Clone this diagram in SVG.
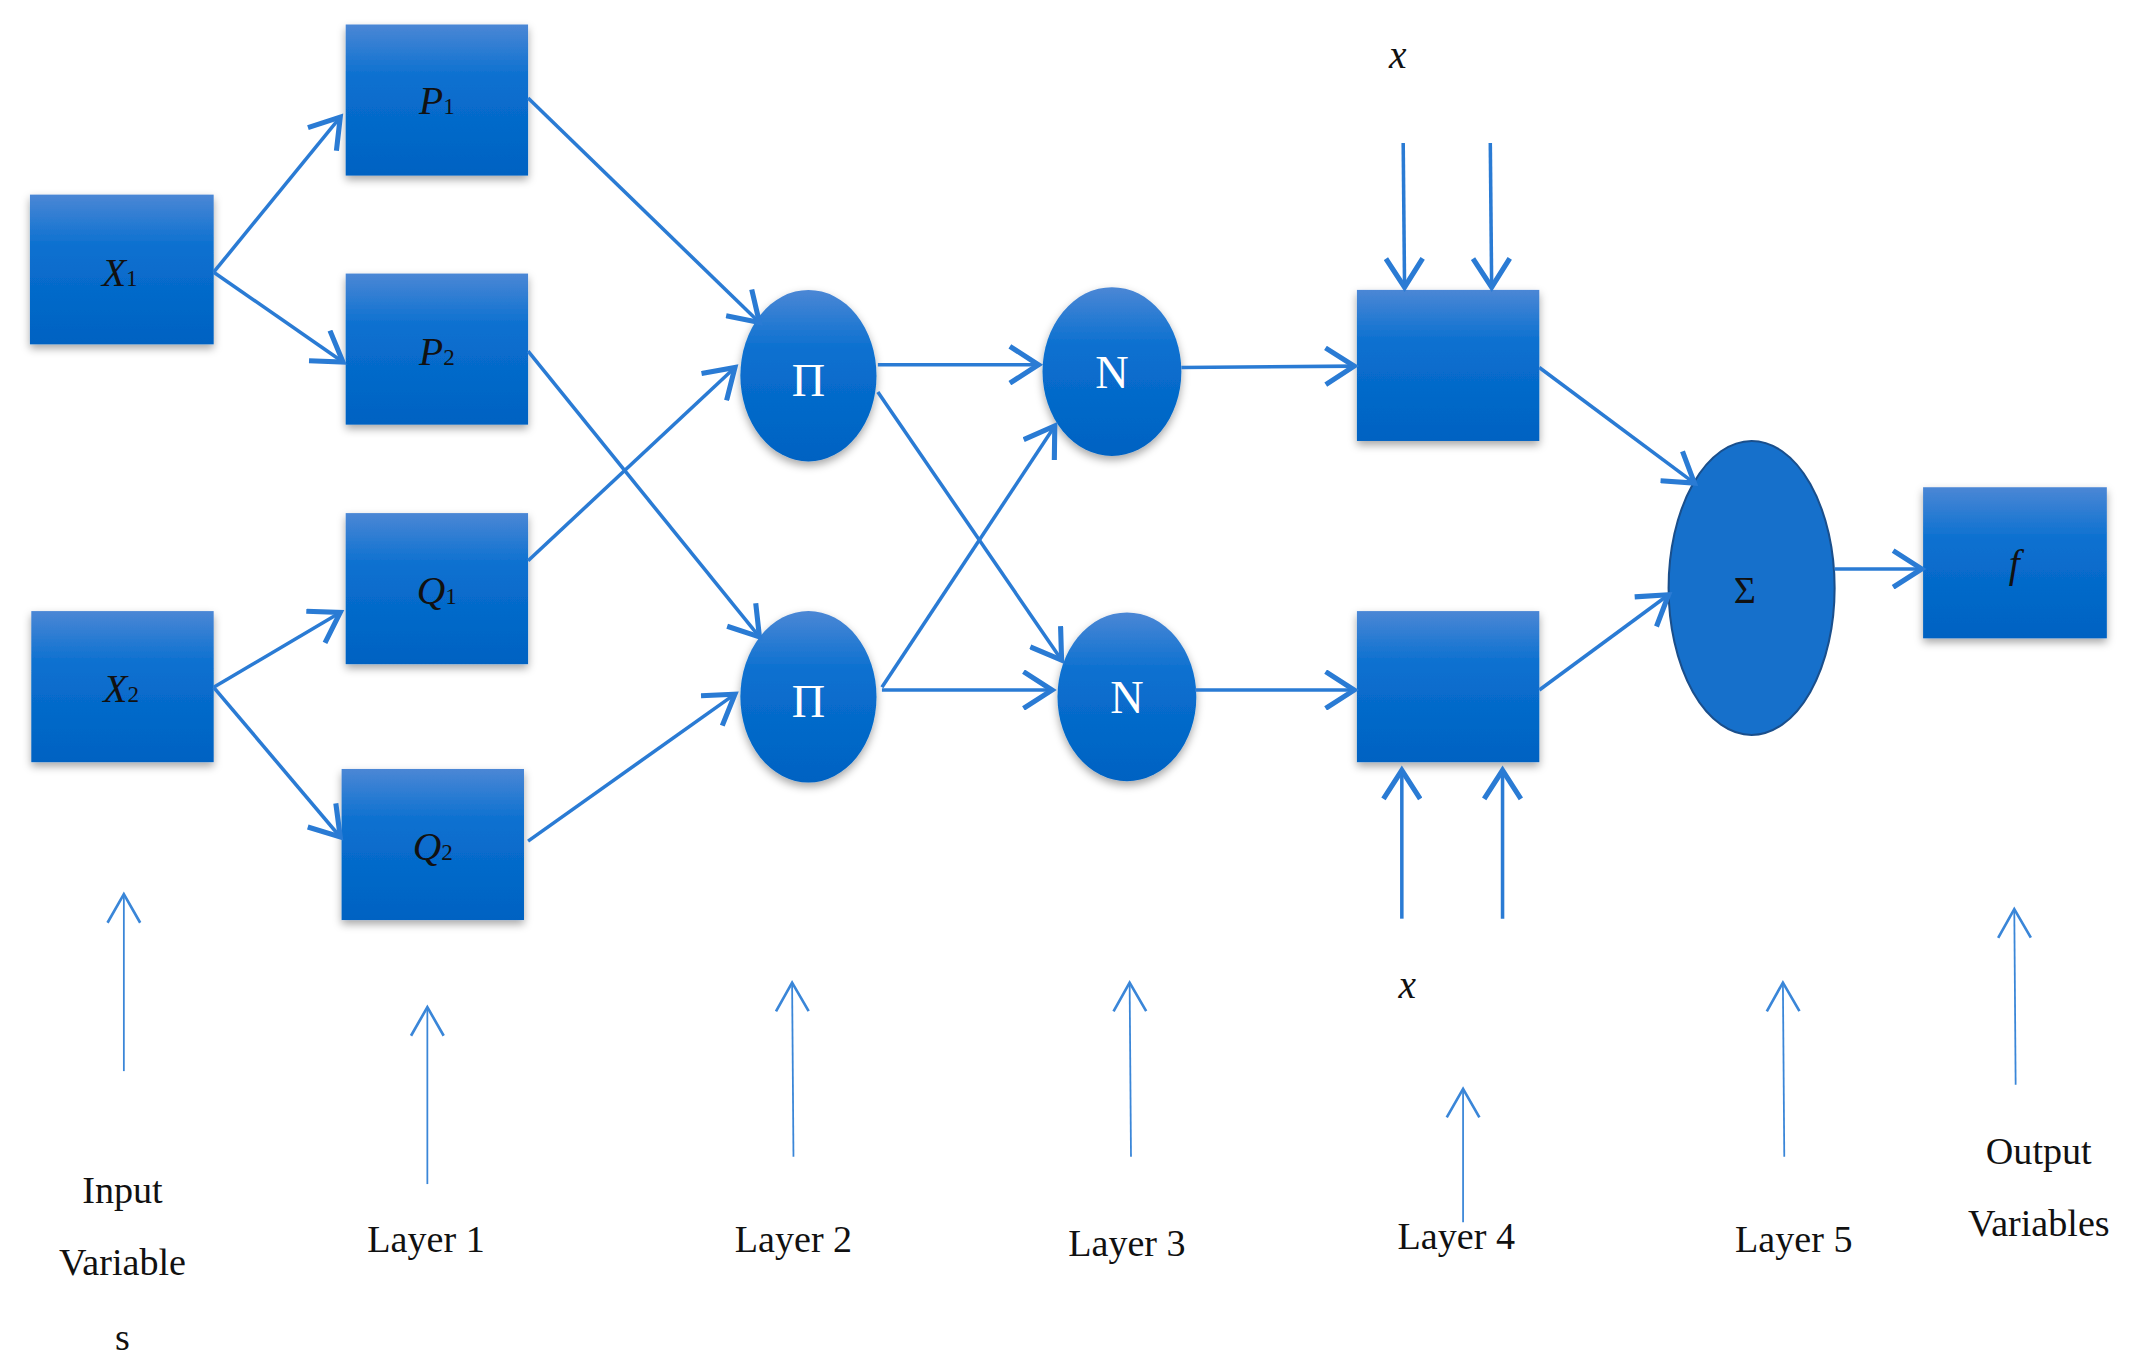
<svg xmlns="http://www.w3.org/2000/svg" width="2134" height="1367" viewBox="0 0 2134 1367">
<defs>
<linearGradient id="g" x1="0" y1="0" x2="0" y2="1">
<stop offset="0" stop-color="#4b87d5"/><stop offset="0.35" stop-color="#0a70d0"/><stop offset="1" stop-color="#0062c2"/>
</linearGradient>
<filter id="sh" x="-20%" y="-20%" width="140%" height="150%"><feDropShadow dx="0" dy="3" stdDeviation="3" flood-color="#000" flood-opacity="0.35"/></filter>
<marker id="a" markerUnits="userSpaceOnUse" markerWidth="30" markerHeight="30" refX="16" refY="10" orient="auto" viewBox="0 0 20 20"><path d="M2,1 L16,10 L2,19" fill="none" stroke="#2a7bd4" stroke-width="2.5"/></marker>
<marker id="t" markerUnits="userSpaceOnUse" markerWidth="30" markerHeight="30" refX="16" refY="10" orient="auto" viewBox="0 0 20 20"><path d="M2,2 L16,10 L2,18" fill="none" stroke="#3a86d8" stroke-width="1.3"/></marker>
</defs>
<style>
.b{fill:url(#g);filter:url(#sh)}
.l{font-family:"Liberation Serif",serif;font-style:italic;font-size:29px;fill:#111;text-anchor:middle}
.s{font-size:17px;font-style:normal}
.w{font-family:"Liberation Serif",serif;font-size:34px;fill:#fff;text-anchor:middle}
.c{fill:none;stroke:#2a7bd4;stroke-width:2.6;marker-end:url(#a)}
.th{fill:none;stroke:#3a86d8;stroke-width:1.3;marker-end:url(#t)}
.lab{font-family:"Liberation Serif",serif;font-size:28px;fill:#111;text-anchor:middle}
</style>
<rect width="2134" height="1367" fill="#fff"/>
<g transform="scale(1.361)">
<g id="X1"><rect class="b" x="22" y="143" width="135" height="110"/><text class="l" x="88" y="210">X<tspan class="s">1</tspan></text></g>
<g id="X2"><rect class="b" x="23" y="449" width="134" height="111"/><text class="l" x="89" y="516">X<tspan class="s">2</tspan></text></g>
<g id="P1"><rect class="b" x="254" y="18" width="134" height="111"/><text class="l" x="321" y="84">P<tspan class="s">1</tspan></text></g>
<g id="P2"><rect class="b" x="254" y="201" width="134" height="111"/><text class="l" x="321" y="268">P<tspan class="s">2</tspan></text></g>
<g id="Q1"><rect class="b" x="254" y="377" width="134" height="111"/><text class="l" x="321" y="444">Q<tspan class="s">1</tspan></text></g>
<g id="Q2"><rect class="b" x="251" y="565" width="134" height="111"/><text class="l" x="318" y="632">Q<tspan class="s">2</tspan></text></g>
<g id="PI1"><ellipse class="b" cx="594" cy="276" rx="50" ry="63"/><text class="w" x="594" y="291">Π</text></g>
<g id="PI2"><ellipse class="b" cx="594" cy="512" rx="50" ry="63"/><text class="w" x="594" y="527">Π</text></g>
<g id="N1"><ellipse class="b" cx="817" cy="273" rx="51" ry="62"/><text class="w" x="817" y="285" font-size="30">N</text></g>
<g id="N2"><ellipse class="b" cx="828" cy="512" rx="51" ry="62"/><text class="w" x="828" y="524" font-size="30">N</text></g>
<g id="L4a"><rect class="b" x="997" y="213" width="134" height="111"/></g>
<g id="L4b"><rect class="b" x="997" y="449" width="134" height="111"/></g>
<g id="SUM"><ellipse cx="1287" cy="432" rx="61" ry="108" fill="#1670cb" stroke="#1a4f8c" stroke-width="1.5"/><text class="lab" x="1282" y="443" font-size="34">Σ</text></g>
<g id="F"><rect class="b" x="1413" y="358" width="135" height="111"/><text class="l" x="1480" y="424">f</text></g>
<g id="connectors">
<path class="c" d="M157,200 L250,86"/>
<path class="c" d="M157,200 L252,266"/>
<path class="c" d="M157,505 L250,450"/>
<path class="c" d="M157,505 L250,615"/>
<path class="c" d="M388,72 L558,237"/>
<path class="c" d="M388,258 L558,468"/>
<path class="c" d="M388,412 L540,270"/>
<path class="c" d="M388,618 L540,510"/>
<path class="c" d="M645,268 L763,268"/>
<path class="c" d="M645,288 L780,485"/>
<path class="c" d="M648,505 L775,313"/>
<path class="c" d="M648,507 L773,507"/>
<path class="c" d="M868,270 L995,269"/>
<path class="c" d="M878,507 L995,507"/>
<path class="c" d="M1131,270 L1245,355"/>
<path class="c" d="M1131,507 L1226,437"/>
<path class="c" d="M1348,418 L1412,418"/>
<path class="c" d="M1031,105 L1032,211"/>
<path class="c" d="M1095,105 L1096,211"/>
<path class="c" d="M1030,675 L1030,566"/>
<path class="c" d="M1104,675 L1104,566"/>
<path class="th" d="M91,787 L91,657"/>
<path class="th" d="M314,870 L314,740"/>
<path class="th" d="M583,850 L582,722"/>
<path class="th" d="M831,850 L830,722"/>
<path class="th" d="M1075,898 L1075,800"/>
<path class="th" d="M1311,850 L1310,722"/>
<path class="th" d="M1481,797 L1480,668"/>
</g>
<text class="l" x="1027" y="50" font-size="22">x</text>
<text class="l" x="1034" y="733" font-size="22">x</text>
<text class="lab" x="90" y="884">Input</text>
<text class="lab" x="90" y="937">Variable</text>
<text class="lab" x="90" y="992">s</text>
<text class="lab" x="313" y="920">Layer 1</text>
<text class="lab" x="583" y="920">Layer 2</text>
<text class="lab" x="828" y="923">Layer 3</text>
<text class="lab" x="1070" y="918">Layer 4</text>
<text class="lab" x="1318" y="920">Layer 5</text>
<text class="lab" x="1498" y="855">Output</text>
<text class="lab" x="1498" y="908">Variables</text>
</g>
</svg>
